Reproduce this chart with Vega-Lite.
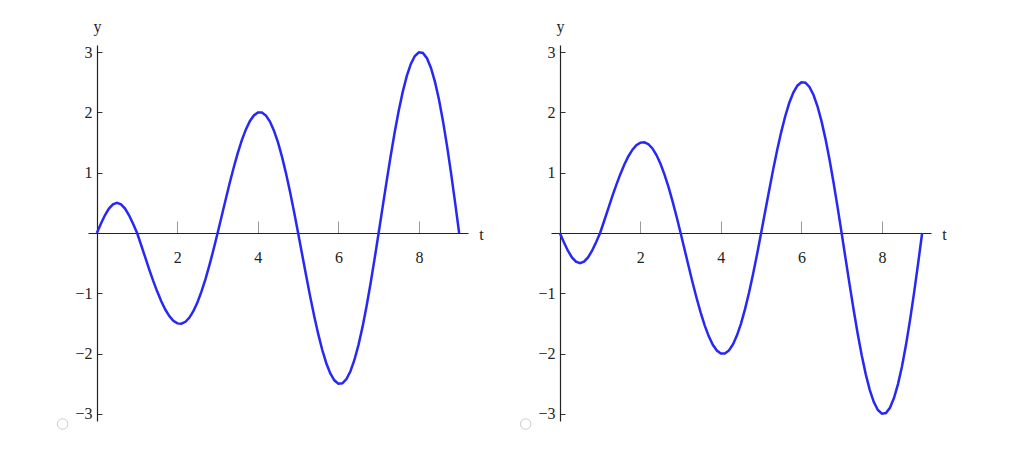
{
  "$schema": "https://vega.github.io/schema/vega-lite/v6.json",
  "padding": {"left": 55, "top": 18, "right": 5, "bottom": 5},
  "background": "white",
  "bounds": "flush",
  "spacing": 83,
  "datasets": {
    "curves": [
      {"t": 0.0, "left": 0.0, "right": 0.0},
      {"t": 0.1, "left": 0.155, "right": -0.155},
      {"t": 0.2, "left": 0.294, "right": -0.294},
      {"t": 0.3, "left": 0.405, "right": -0.405},
      {"t": 0.4, "left": 0.476, "right": -0.476},
      {"t": 0.5, "left": 0.5, "right": -0.5},
      {"t": 0.6, "left": 0.476, "right": -0.476},
      {"t": 0.7, "left": 0.405, "right": -0.405},
      {"t": 0.8, "left": 0.294, "right": -0.294},
      {"t": 0.9, "left": 0.155, "right": -0.155},
      {"t": 1.0, "left": 0.0, "right": 0.0},
      {"t": 1.1, "left": -0.199, "right": 0.199},
      {"t": 1.2, "left": -0.402, "right": 0.402},
      {"t": 1.3, "left": -0.602, "right": 0.602},
      {"t": 1.4, "left": -0.794, "right": 0.794},
      {"t": 1.5, "left": -0.972, "right": 0.972},
      {"t": 1.6, "left": -1.133, "right": 1.133},
      {"t": 1.7, "left": -1.27, "right": 1.27},
      {"t": 1.8, "left": -1.379, "right": 1.379},
      {"t": 1.9, "left": -1.457, "right": 1.457},
      {"t": 2.0, "left": -1.5, "right": 1.5},
      {"t": 2.1, "left": -1.506, "right": 1.506},
      {"t": 2.2, "left": -1.474, "right": 1.474},
      {"t": 2.3, "left": -1.403, "right": 1.403},
      {"t": 2.4, "left": -1.294, "right": 1.294},
      {"t": 2.5, "left": -1.149, "right": 1.149},
      {"t": 2.6, "left": -0.97, "right": 0.97},
      {"t": 2.7, "left": -0.76, "right": 0.76},
      {"t": 2.8, "left": -0.525, "right": 0.525},
      {"t": 2.9, "left": -0.27, "right": 0.27},
      {"t": 3.0, "left": 0.0, "right": 0.0},
      {"t": 3.1, "left": 0.278, "right": -0.278},
      {"t": 3.2, "left": 0.556, "right": -0.556},
      {"t": 3.3, "left": 0.829, "right": -0.829},
      {"t": 3.4, "left": 1.087, "right": -1.087},
      {"t": 3.5, "left": 1.326, "right": -1.326},
      {"t": 3.6, "left": 1.537, "right": -1.537},
      {"t": 3.7, "left": 1.715, "right": -1.715},
      {"t": 3.8, "left": 1.855, "right": -1.855},
      {"t": 3.9, "left": 1.951, "right": -1.951},
      {"t": 4.0, "left": 2.0, "right": -2.0},
      {"t": 4.1, "left": 2.0, "right": -2.0},
      {"t": 4.2, "left": 1.95, "right": -1.95},
      {"t": 4.3, "left": 1.849, "right": -1.849},
      {"t": 4.4, "left": 1.699, "right": -1.699},
      {"t": 4.5, "left": 1.503, "right": -1.503},
      {"t": 4.6, "left": 1.264, "right": -1.264},
      {"t": 4.7, "left": 0.987, "right": -0.987},
      {"t": 4.8, "left": 0.68, "right": -0.68},
      {"t": 4.9, "left": 0.348, "right": -0.348},
      {"t": 5.0, "left": 0.0, "right": 0.0},
      {"t": 5.1, "left": -0.356, "right": 0.356},
      {"t": 5.2, "left": -0.711, "right": 0.711},
      {"t": 5.3, "left": -1.056, "right": 1.056},
      {"t": 5.4, "left": -1.381, "right": 1.381},
      {"t": 5.5, "left": -1.679, "right": 1.679},
      {"t": 5.6, "left": -1.942, "right": 1.942},
      {"t": 5.7, "left": -2.161, "right": 2.161},
      {"t": 5.8, "left": -2.33, "right": 2.33},
      {"t": 5.9, "left": -2.445, "right": 2.445},
      {"t": 6.0, "left": -2.5, "right": 2.5},
      {"t": 6.1, "left": -2.494, "right": 2.494},
      {"t": 6.2, "left": -2.425, "right": 2.425},
      {"t": 6.3, "left": -2.294, "right": 2.294},
      {"t": 6.4, "left": -2.103, "right": 2.103},
      {"t": 6.5, "left": -1.856, "right": 1.856},
      {"t": 6.6, "left": -1.558, "right": 1.558},
      {"t": 6.7, "left": -1.214, "right": 1.214},
      {"t": 6.8, "left": -0.834, "right": 0.834},
      {"t": 6.9, "left": -0.426, "right": 0.426},
      {"t": 7.0, "left": 0.0, "right": 0.0},
      {"t": 7.1, "left": 0.434, "right": -0.434},
      {"t": 7.2, "left": 0.865, "right": -0.865},
      {"t": 7.3, "left": 1.283, "right": -1.283},
      {"t": 7.4, "left": 1.675, "right": -1.675},
      {"t": 7.5, "left": 2.033, "right": -2.033},
      {"t": 7.6, "left": 2.346, "right": -2.346},
      {"t": 7.7, "left": 2.606, "right": -2.606},
      {"t": 7.8, "left": 2.806, "right": -2.806},
      {"t": 7.9, "left": 2.938, "right": -2.938},
      {"t": 8.0, "left": 3.0, "right": -3.0},
      {"t": 8.1, "left": 2.988, "right": -2.988},
      {"t": 8.2, "left": 2.901, "right": -2.901},
      {"t": 8.3, "left": 2.74, "right": -2.74},
      {"t": 8.4, "left": 2.508, "right": -2.508},
      {"t": 8.5, "left": 2.21, "right": -2.21},
      {"t": 8.6, "left": 1.852, "right": -1.852},
      {"t": 8.7, "left": 1.441, "right": -1.441},
      {"t": 8.8, "left": 0.989, "right": -0.989},
      {"t": 8.9, "left": 0.504, "right": -0.504},
      {"t": 9.0, "left": 0.0, "right": 0.0}
    ],
    "options": [
      {"t": -0.85, "left": -3.17, "right": -3.17}
    ]
  },
  "hconcat": [
    {
      "width": 380,
      "height": 376,
      "encoding": {
        "x": {
          "field": "t",
          "type": "quantitative",
          "scale": {"domain": [-0.22, 9.22], "nice": false, "zero": false},
          "axis": {"title": "t", "values": [2, 4, 6, 8], "offset": -188, "tickSize": -12, "tickColor": "#999", "labelPadding": 28, "titleX": 393, "titleY": 1, "titleBaseline": "middle", "titleAlign": "center"}
        },
        "y": {
          "field": "left",
          "type": "quantitative",
          "scale": {"domain": [-3.12, 3.12], "nice": false, "zero": false},
          "axis": {"title": "y", "values": [-3, -2, -1, 1, 2, 3], "offset": -9, "tickSize": -5, "labelPadding": 10, "titleAngle": 0, "titleX": 0, "titleY": -14, "titleAlign": "center", "titleBaseline": "alphabetic"}
        }
      },
      "layer": [
        {
          "data": {"name": "curves"},
          "mark": {"type": "line", "color": "#2828f4", "strokeWidth": 2.5, "clip": false}
        },
        {
          "data": {"name": "options"},
          "mark": {"type": "point", "shape": "circle", "size": 110, "filled": false, "stroke": "#b8b8b8", "strokeWidth": 1, "clip": false}
        }
      ]
    },
    {
      "width": 380,
      "height": 376,
      "encoding": {
        "x": {
          "field": "t",
          "type": "quantitative",
          "scale": {"domain": [-0.22, 9.22], "nice": false, "zero": false},
          "axis": {"title": "t", "values": [2, 4, 6, 8], "offset": -188, "tickSize": -12, "tickColor": "#999", "labelPadding": 28, "titleX": 393, "titleY": 1, "titleBaseline": "middle", "titleAlign": "center"}
        },
        "y": {
          "field": "right",
          "type": "quantitative",
          "scale": {"domain": [-3.12, 3.12], "nice": false, "zero": false},
          "axis": {"title": "y", "values": [-3, -2, -1, 1, 2, 3], "offset": -9, "tickSize": -5, "labelPadding": 10, "titleAngle": 0, "titleX": 0, "titleY": -14, "titleAlign": "center", "titleBaseline": "alphabetic"}
        }
      },
      "layer": [
        {
          "data": {"name": "curves"},
          "mark": {"type": "line", "color": "#2828f4", "strokeWidth": 2.5, "clip": false}
        },
        {
          "data": {"name": "options"},
          "mark": {"type": "point", "shape": "circle", "size": 110, "filled": false, "stroke": "#b8b8b8", "strokeWidth": 1, "clip": false}
        }
      ]
    }
  ],
  "config": {
    "view": {"stroke": null},
    "axis": {
      "grid": false,
      "domainColor": "#222",
      "domainWidth": 1.2,
      "tickColor": "#333",
      "labelFont": "Liberation Serif",
      "labelFontSize": 16,
      "labelColor": "#222",
      "titleFont": "Liberation Serif",
      "titleFontSize": 16,
      "titleFontWeight": "normal",
      "titleColor": "#222"
    }
  }
}
